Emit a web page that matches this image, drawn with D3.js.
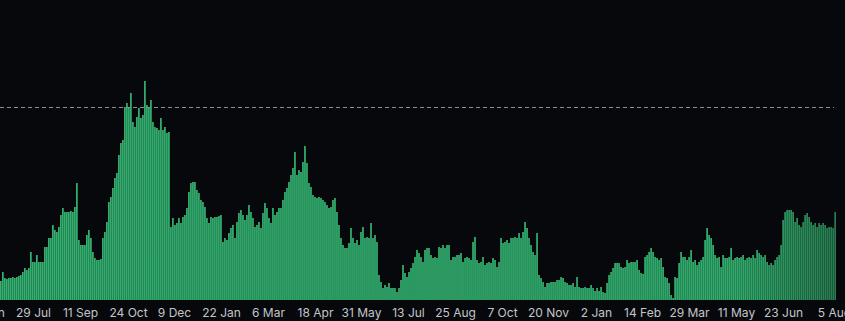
<!DOCTYPE html>
<html>
<head>
<meta charset="utf-8">
<script src="https://cdn.jsdelivr.net/npm/d3@7"></script>
<style>
  html, body { margin: 0; padding: 0; background: #07080c; }
  svg { display: block; }
  .axis text { fill: #c4c5c9; font-family: Inter, Roboto, "Noto Sans", sans-serif; font-size: 12px; }
</style>
</head>
<body>
<div id="chart"></div>
<script>
// bar values, read left to right off the picture (arbitrary units, threshold = 193)
const valuesPart1 = [
  19, 28, 22, 21, 22, 22, 23, 22, 23, 24,
  25, 28, 32, 30, 32, 48, 38, 38, 45, 38,
  38, 38, 53, 53, 62, 62, 75, 70, 68, 73,
  85, 92, 88, 88, 88, 89, 88, 93, 117, 60,
  55, 55, 55, 65, 70, 62, 48, 42, 40, 40,
  41, 62, 68, 78, 98, 103, 112, 122, 127, 145,
  157, 160, 193, 197, 193, 207, 178, 173, 183, 192,
  182, 185, 219, 195, 192, 200, 178, 173, 172, 170,
  182, 170, 173, 167, 168, 73, 82, 75, 77, 82,
  77, 83, 85, 92, 108, 117, 118, 118, 110, 107,
  100, 98, 93, 82, 77
];
const valuesPart2 = [
  83, 82, 83, 83, 84, 85, 58, 62, 60, 67,
  72, 75, 62, 78, 87, 90, 85, 80, 85, 95,
  88, 82, 73, 75, 78, 72, 87, 97, 92, 82,
  77, 92, 85, 88, 92, 92, 100, 108, 112, 118,
  125, 132, 148, 125, 130, 128, 138, 154, 137, 117,
  113, 105, 103, 102, 103, 102, 100, 98, 95, 92,
  93, 100, 102, 88, 75, 62, 55, 52, 52, 57,
  72, 62, 57, 60, 55, 68, 73, 62, 63, 62,
  77, 62, 65, 58, 25, 18, 12, 15, 13, 17,
  12, 12, 12, 8, 12, 20, 35, 27, 23, 28,
  32, 37, 43, 50, 47
];
const valuesPart3 = [
  43, 38, 50, 52, 52, 45, 42, 43, 42, 53,
  52, 55, 52, 55, 55, 40, 43, 43, 45, 45,
  47, 38, 42, 43, 42, 40, 58, 63, 40, 37,
  38, 43, 35, 37, 38, 37, 42, 40, 33, 38,
  62, 57, 58, 60, 57, 62, 62, 63, 62, 67,
  62, 68, 78, 72, 62, 55, 48, 45, 67, 25,
  22, 18, 13, 17, 17, 18, 18, 18, 20, 20,
  23, 22, 18, 17, 15, 15, 17, 13, 23, 13,
  12, 12, 13, 12, 12, 15, 12, 9, 12, 9,
  13, 8, 7, 17, 25, 28, 32, 37, 37, 37,
  33, 32, 33, 40, 37
];
const valuesPart4 = [
  38, 38, 38, 40, 30, 27, 26, 43, 45, 48,
  52, 48, 43, 42, 40, 42, 33, 23, 22, 17,
  5, 2, 23, 22, 37, 48, 43, 43, 40, 43,
  50, 38, 40, 35, 38, 40, 43, 60, 72, 65,
  62, 55, 45, 42, 43, 33, 45, 42, 42, 43,
  52, 40, 42, 43, 42, 43, 45, 40, 42, 43,
  42, 45, 42, 50, 47, 45, 43, 45, 38, 35,
  37, 35, 40, 43, 45, 55, 80, 88, 90, 90,
  90, 88, 78, 82, 75, 73, 78, 85, 87, 83,
  78, 75, 77, 73, 77, 75, 77, 75, 72, 73,
  73, 72, 88
];
const values = valuesPart1.concat(valuesPart2, valuesPart3, valuesPart4);

const threshold = 193;

// tick labels and the bar position (index) each one sits on
const tickLabels = ["16 Jun", "29 Jul", "11 Sep", "24 Oct", "9 Dec", "22 Jan", "6 Mar", "18 Apr", "31 May",
  "13 Jul", "25 Aug", "7 Oct", "20 Nov", "2 Jan", "14 Feb", "29 Mar", "11 May", "23 Jun", "5 Aug"];
const tickIndex = [-7, 16.5, 40, 64, 87, 110.5, 134, 157.5, 180.5, 204, 227.5, 251, 274, 298, 321, 344.5, 368, 391.5, 417];

const width = 845, height = 321;
const plotLeft = 0, plotRight = 836, plotBottom = 300, plotTop = 60;

const svg = d3.select("#chart").append("svg")
  .attr("width", width)
  .attr("height", height);

svg.append("rect").attr("width", width).attr("height", height).attr("fill", "#07080c");

// bars darken a little toward the right end
const grad = svg.append("defs").append("linearGradient")
  .attr("id", "barFill")
  .attr("gradientUnits", "userSpaceOnUse")
  .attr("x1", plotLeft).attr("x2", plotRight).attr("y1", 0).attr("y2", 0);
grad.append("stop").attr("offset", 0).attr("stop-color", "#33b371");
grad.append("stop").attr("offset", 0.88).attr("stop-color", "#32b06f");
grad.append("stop").attr("offset", 1).attr("stop-color", "#267a4e");

const x = d3.scaleBand()
  .domain(d3.range(values.length))
  .range([plotLeft, plotRight])
  .paddingInner(0.15);

const xPos = d3.scaleLinear()
  .domain([0, values.length])
  .range([plotLeft, plotRight]);

const y = d3.scaleLinear()
  .domain([0, 240])
  .range([plotBottom, plotTop]);

svg.append("g")
  .selectAll("rect")
  .data(values)
  .join("rect")
  .attr("x", (d, i) => x(i))
  .attr("width", x.bandwidth())
  .attr("y", d => y(d))
  .attr("height", d => y(0) - y(d))
  .attr("fill", "url(#barFill)");

// dashed reference line
svg.append("line")
  .attr("x1", plotLeft)
  .attr("x2", plotRight - 2)
  .attr("y1", Math.round(y(threshold)) + 0.5)
  .attr("y2", Math.round(y(threshold)) + 0.5)
  .attr("stroke", "#8d8e92")
  .attr("stroke-width", 1)
  .attr("stroke-dasharray", "4,3");

const axis = svg.append("g")
  .attr("class", "axis")
  .attr("transform", `translate(0,${plotBottom})`)
  .call(d3.axisBottom(xPos)
    .tickValues(tickIndex)
    .tickFormat((d, i) => tickLabels[i])
    .tickSize(0)
    .tickPadding(8));

axis.select(".domain").remove();
</script>
</body>
</html>
